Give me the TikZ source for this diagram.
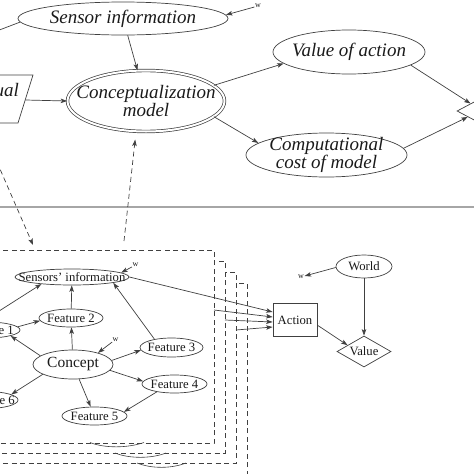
\documentclass[tikz,border=0pt]{standalone}
\usepackage{fontspec}
\setmainfont{Liberation Serif}
\usetikzlibrary{shapes.geometric,arrows.meta,calc}
\definecolor{lc}{HTML}{404040}
\definecolor{tc}{HTML}{1a1a1a}
\begin{document}
\begin{tikzpicture}[x=1pt,y=-1pt,
  every node/.append style={text=tc},
  ell/.style={ellipse, draw=lc, line width=0.7pt, inner sep=0pt},
  arr/.style={draw=lc, line width=0.7pt, -{Stealth[length=6.5pt,width=4.5pt,inset=1.5pt]}},
  dsh/.style={dash pattern=on 5pt off 3.5pt},
  frm/.style={draw=lc, line width=0.7pt, dsh, fill=white},
  big/.style={font=\fontsize{19pt}{15.5pt}\selectfont\itshape},
  sm/.style={font=\fontsize{12.7pt}{14pt}\selectfont},
  tiny/.style={font=\fontsize{8pt}{9pt}\selectfont, inner sep=0.5pt},
  brc/.style={draw=lc, line width=0.6pt}
]
\useasboundingbox (0,0) rectangle (474,474);
\clip (0,0) rectangle (474,474);

% ---------- upper part ----------
\node[ell, minimum width=210pt, minimum height=33pt, label={[big]center:Sensor information}] (sinfo) at (123,18.5) {};
\node[ell, double=white, double distance=2pt, minimum width=157pt, minimum height=61pt,
      label={[big,align=center]center:Conceptualization\\model}] (cm) at (146,101) {};
\node[ell, minimum width=152pt, minimum height=44pt, label={[big]center:Value of action}] (voa) at (349,52) {};
\node[ell, minimum width=161pt, minimum height=44pt,
      label={[big,align=center]center:Computational\\cost of model}] (comp) at (326.5,155) {};
\node[diamond, draw=lc, line width=0.7pt, minimum width=66pt, minimum height=35pt, inner sep=0pt] (dia) at (490,111) {};

\draw[lc, line width=0.7pt] (-30,75) -- (33,75) -- (18,123) -- (-30,123);
\coordinate (par) at (25.5,100);
\coordinate (parb) at (-20,123);
\node[big, anchor=base east, inner sep=0pt] (ual) at (19,96) {ual};
\node[tiny] (w1) at (258,6) {w};
\coordinate (sleft) at (-40,45);

\draw[arr] (sinfo) -- (cm);
\draw[arr] (w1) -- (sinfo.2);
\draw[arr] (sinfo.182) -- (sleft);
\draw[arr] (par) -- (cm.west);
\draw[arr] (cm.13) -- (voa.190);
\draw[arr] (cm.-13) -- (comp.170);
\draw[arr] (voa.-12) -- (dia.159);
\draw[arr] (comp.5) -- (dia.195);

\draw[gray!70, line width=1.5pt] (0,207) -- (474,207);

\coordinate (dup) at (124,241);
\draw[arr, dsh, shorten >=8pt] (dup) -- (cm.-108);
\coordinate (dtip) at (33,245);
\draw[arr, dsh] (parb) -- (dtip);

% ---------- lower part ----------
\draw[frm] (-10,283) rectangle (247,476);
\draw[frm] (-10,272) rectangle (236,463);
\draw[frm] (-10,261) rectangle (225,453);
\draw[frm] (-10,250) rectangle (214,443);

\draw[brc] (90,442.5) .. controls (105,448.5) and (128,448) .. (144,442.5);
\draw[brc] (115,453) .. controls (130,459) and (152,458.5) .. (166,453);
\draw[brc] (137,463) .. controls (152,469) and (172,468.5) .. (186,463);

\node[ell, minimum width=114pt, minimum height=16pt, label={[sm]center:Sensors’ information}] (si) at (72,277) {};
\node[ell, minimum width=66pt, minimum height=16pt, label={[sm,xshift=3pt]center:Feature 1}] (f1) at (-13,330) {};
\node[ell, minimum width=64pt, minimum height=18pt, label={[sm]center:Feature 2}] (f2) at (71,318) {};
\node[ell, minimum width=63pt, minimum height=19pt, label={[sm]center:Feature 3}] (f3) at (171.5,347.5) {};
\node[ell, minimum width=65pt, minimum height=18pt, label={[sm]center:Feature 4}] (f4) at (174.5,384) {};
\node[ell, minimum width=65pt, minimum height=18pt, label={[sm]center:Feature 5}] (f5) at (94.5,416) {};
\node[ell, minimum width=62pt, minimum height=17pt, label={[sm,xshift=4pt]center:Feature 6}] (f6) at (-13,400) {};
\node[ell, minimum width=80pt, minimum height=29pt, label={[font=\fontsize{15.5pt}{16pt}\selectfont]center:Concept}] (con) at (73,364.5) {};

\node[tiny] (w2) at (135.5,265) {w};
\node[tiny] (w3) at (115.5,339.5) {w};
\node[tiny] (w4) at (301,277) {w};

\node[draw=lc, line width=0.7pt, minimum width=44pt, minimum height=33pt, inner sep=0pt, sm] (act) at (295,320) {Action};
\node[ell, minimum width=56pt, minimum height=23pt, label={[sm]center:World}] (world) at (364,266.5) {};
\node[diamond, draw=lc, line width=0.7pt, minimum width=54pt, minimum height=31pt, inner sep=0pt,
      label={[sm]center:Value}] (val) at (364,351.5) {};

\draw[arr] (f1.120) -- (si.-167);
\draw[arr] (f2) -- (si);
\draw[arr] (f3.154) -- (si.-8);
\draw[arr] (f1.6) -- (f2.185);
\draw[arr] (con.165) -- (f1.-14);
\draw[arr] (con) -- (f2);
\draw[arr] (con.6) -- (f3.185);
\draw[arr] (con.-9) -- (f4.175);
\draw[arr] (con) -- (f5);
\draw[arr] (con.198) -- (f6.13);
\draw[arr] (f4.204) -- (f5.8);
\draw[arr] (w2) -- (si.5);
\draw[arr] (w3) -- (con.25);

\coordinate (o2) at (214,310);
\coordinate (o3) at (225,320);
\coordinate (o4) at (236,330);
\draw[arr] (si.east) -- ($(act.west)+(0,-8)$);
\draw[arr] (o2) -- ($(act.west)+(0,-3)$);
\draw[arr] (o3) -- ($(act.west)+(0,2)$);
\draw[arr] (o4) -- ($(act.west)+(0,7)$);
\draw[arr] (act.-13) -- (val.159);
\draw[arr] (world) -- (val);
\draw[arr] (world.182) -- (w4);
\end{tikzpicture}
\end{document}
